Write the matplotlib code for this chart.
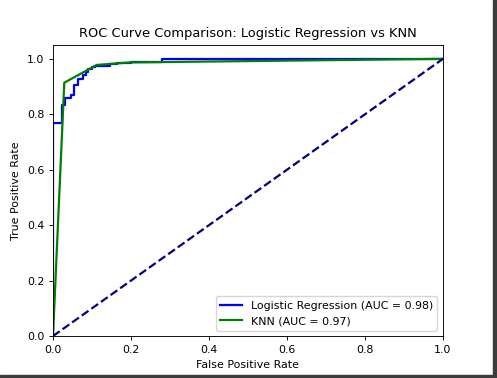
import matplotlib
matplotlib.use("Agg")
import matplotlib.pyplot as plt
from matplotlib.patches import Rectangle

# Logistic regression ROC (staircase)
lr_fpr = [0.0, 0.0, 0.0, 0.022, 0.022, 0.030, 0.030, 0.045, 0.045, 0.055, 0.055,
          0.063, 0.063, 0.077, 0.077, 0.085, 0.085, 0.091, 0.091, 0.100, 0.100,
          0.108, 0.108, 0.145, 0.145, 0.165, 0.165, 0.200, 0.200, 0.279, 0.279, 1.0]
lr_tpr = [0.0, 0.0, 0.769, 0.769, 0.834, 0.834, 0.860, 0.860, 0.870, 0.870, 0.906,
          0.906, 0.928, 0.928, 0.940, 0.940, 0.952, 0.952, 0.964, 0.964, 0.971,
          0.971, 0.975, 0.975, 0.982, 0.982, 0.986, 0.986, 0.988, 0.988, 1.0, 1.0]
lr_auc = 0.98

# KNN ROC
knn_fpr = [0.0, 0.029, 0.112, 0.197, 1.0]
knn_tpr = [0.0, 0.914, 0.978, 0.987, 1.0]
knn_auc = 0.97

fig = plt.figure(figsize=(4.97, 3.78), dpi=100)
ax = fig.add_axes([0.1066, 0.111, 0.7847, 0.770])

ax.plot(lr_fpr, lr_tpr, color="blue", lw=1.6,
        label=f"Logistic Regression (AUC = {lr_auc:.2f})")
ax.plot(knn_fpr, knn_tpr, color="green", lw=1.6,
        label=f"KNN (AUC = {knn_auc:.2f})")
ax.plot([0, 1], [0, 1], color="navy", lw=1.6, linestyle="--")

ax.set_xlim(0.0, 1.0)
ax.set_ylim(0.0, 1.05)
ax.set_xlabel("False Positive Rate", fontsize=7.9)
ax.set_ylabel("True Positive Rate", fontsize=7.9)
ax.set_title("ROC Curve Comparison: Logistic Regression vs KNN", fontsize=9.4)
ax.tick_params(labelsize=7.9, length=2.8, width=0.65)
for s in ax.spines.values():
    s.set_linewidth(0.65)
ax.legend(loc="lower right", fontsize=7.9)

# dark frame from the screenshot edge
fig.patches.append(Rectangle((493 / 497, 0), 4 / 497, 1, transform=fig.transFigure,
                             color="#3c3c3c", zorder=10))
fig.patches.append(Rectangle((0, 0), 1, 3 / 378, transform=fig.transFigure,
                             color="#3c3c3c", zorder=10))

fig.savefig("out.png", dpi=100)
